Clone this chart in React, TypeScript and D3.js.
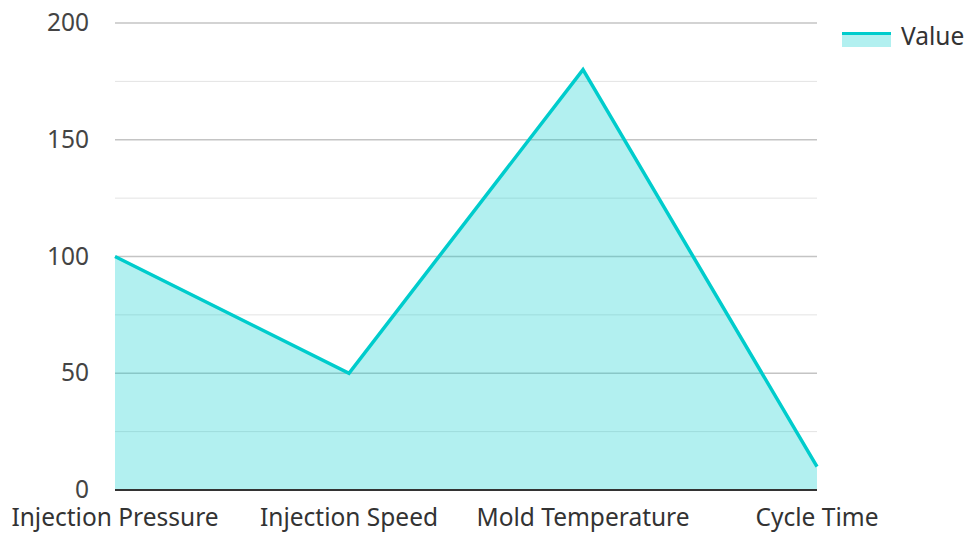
import { useMemo } from 'react';
import * as d3 from 'd3';

const categories = ['Injection Pressure', 'Injection Speed', 'Mold Temperature', 'Cycle Time'];
const values = [100, 50, 180, 10];
const majorTicks = [0, 50, 100, 150, 200];
const minorTicks = [25, 75, 125, 175];

const W = 966;
const H = 533;
const M = { top: 23, right: 149, bottom: 43, left: 115 };
const LINE = '#00cccc';
const FONT = '"Noto Sans", "Open Sans", sans-serif';

export default function App() {
  const innerW = W - M.left - M.right;
  const innerH = H - M.top - M.bottom;

  const x = useMemo(
    () => d3.scalePoint<string>().domain(categories).range([0, innerW]),
    [innerW]
  );
  const y = useMemo(() => d3.scaleLinear().domain([0, 200]).range([innerH, 0]), [innerH]);

  const pts = categories.map((c, i) => ({ c, v: values[i] }));
  const line = d3
    .line<{ c: string; v: number }>()
    .x((d) => x(d.c)!)
    .y((d) => y(d.v))(pts)!;
  const area = d3
    .area<{ c: string; v: number }>()
    .x((d) => x(d.c)!)
    .y0(y(0))
    .y1((d) => y(d.v))(pts)!;

  return (
    <svg
      width={W}
      height={H}
      style={{ position: 'absolute', left: 0, top: 0, fontFamily: FONT }}
    >
      <g transform={`translate(${M.left},${M.top})`}>
        {minorTicks.map((t) => (
          <line key={`m${t}`} x1={0} x2={innerW} y1={y(t)} y2={y(t)} stroke="#e3e3e3" strokeWidth={1} />
        ))}
        {majorTicks.map((t) => (
          <line key={t} x1={0} x2={innerW} y1={y(t)} y2={y(t)} stroke="#c4c4c4" strokeWidth={1.3} />
        ))}
        <path d={area} fill={LINE} fillOpacity={0.3} />
        <path d={line} fill="none" stroke={LINE} strokeWidth={3.5} strokeLinejoin="miter" />
        <line x1={0} x2={innerW} y1={innerH} y2={innerH} stroke="#333333" strokeWidth={2} />
        {majorTicks.map((t) => (
          <text
            key={`l${t}`}
            x={-26}
            y={y(t)}
            dy="0.33em"
            textAnchor="end"
            fontSize={24.5}
            fill="#444444"
          >
            {t}
          </text>
        ))}
        {categories.map((c) => (
          <text
            key={c}
            x={x(c)!}
            y={innerH + 36}
            textAnchor="middle"
            fontSize={24.5}
            fill="#333333"
          >
            {c}
          </text>
        ))}
      </g>
      <g transform="translate(842,28)">
        <rect x={0} y={4} width={49} height={15} fill={LINE} fillOpacity={0.3} />
        <line x1={0} x2={49} y1={5.5} y2={5.5} stroke={LINE} strokeWidth={3} />
        <text x={59} y={8} dy="0.35em" fontSize={24.5} fill="#333333">
          Value
        </text>
      </g>
    </svg>
  );
}
